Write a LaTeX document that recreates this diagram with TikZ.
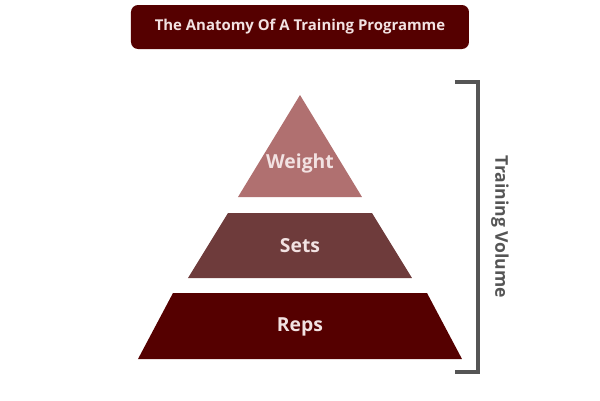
\documentclass[tikz,border=0pt]{standalone}
\usepackage{fontspec}
\setmainfont{Open Sans}
\definecolor{maroon}{HTML}{550000}
\definecolor{midbrown}{HTML}{6E3B3B}
\definecolor{rose}{HTML}{B07070}
\definecolor{pale}{HTML}{F2E2E2}
\definecolor{bracketgray}{HTML}{555555}
\tikzset{
  layer/.style={draw=none},
  lbl/.style={text=pale,font=\bfseries\fontsize{11}{13}\selectfont},
}
\begin{document}
\begin{tikzpicture}[x=0.02cm,y=-0.02cm]
      \useasboundingbox (0,0) rectangle (600,400);
      % title
      \fill[maroon,rounded corners=4pt] (131,5) rectangle (469,49);
      \node[text=pale,font=\bfseries\fontsize{8.5}{10}\selectfont] (title) at (300,27) {The Anatomy Of A Training Programme};
      % pyramid
      \fill[layer,rose] (300,95) -- (362,197) -- (238,197) -- cycle;
      \fill[layer,midbrown] (228,213) -- (372,213) -- (412,278) -- (188,278) -- cycle;
      \fill[layer,maroon] (173,293) -- (427,293) -- (462,359) -- (138,359) -- cycle;
      \draw
        (300,163) node[lbl] (weight){Weight}
        (300,246) node[lbl] (sets){Sets}
        (300,327) node[lbl] (reps){Reps};
      % bracket
      \begin{scope}[bracketgray,line width=2pt]
        \draw (455,82) -- (478,82) -- (478,372) -- (455,372);
      \end{scope}
      \node[rotate=-90,text=bracketgray,font=\bfseries\fontsize{10}{12}\selectfont] (volume) at (500,227) {Training Volume};
    \end{tikzpicture}
\end{document}
